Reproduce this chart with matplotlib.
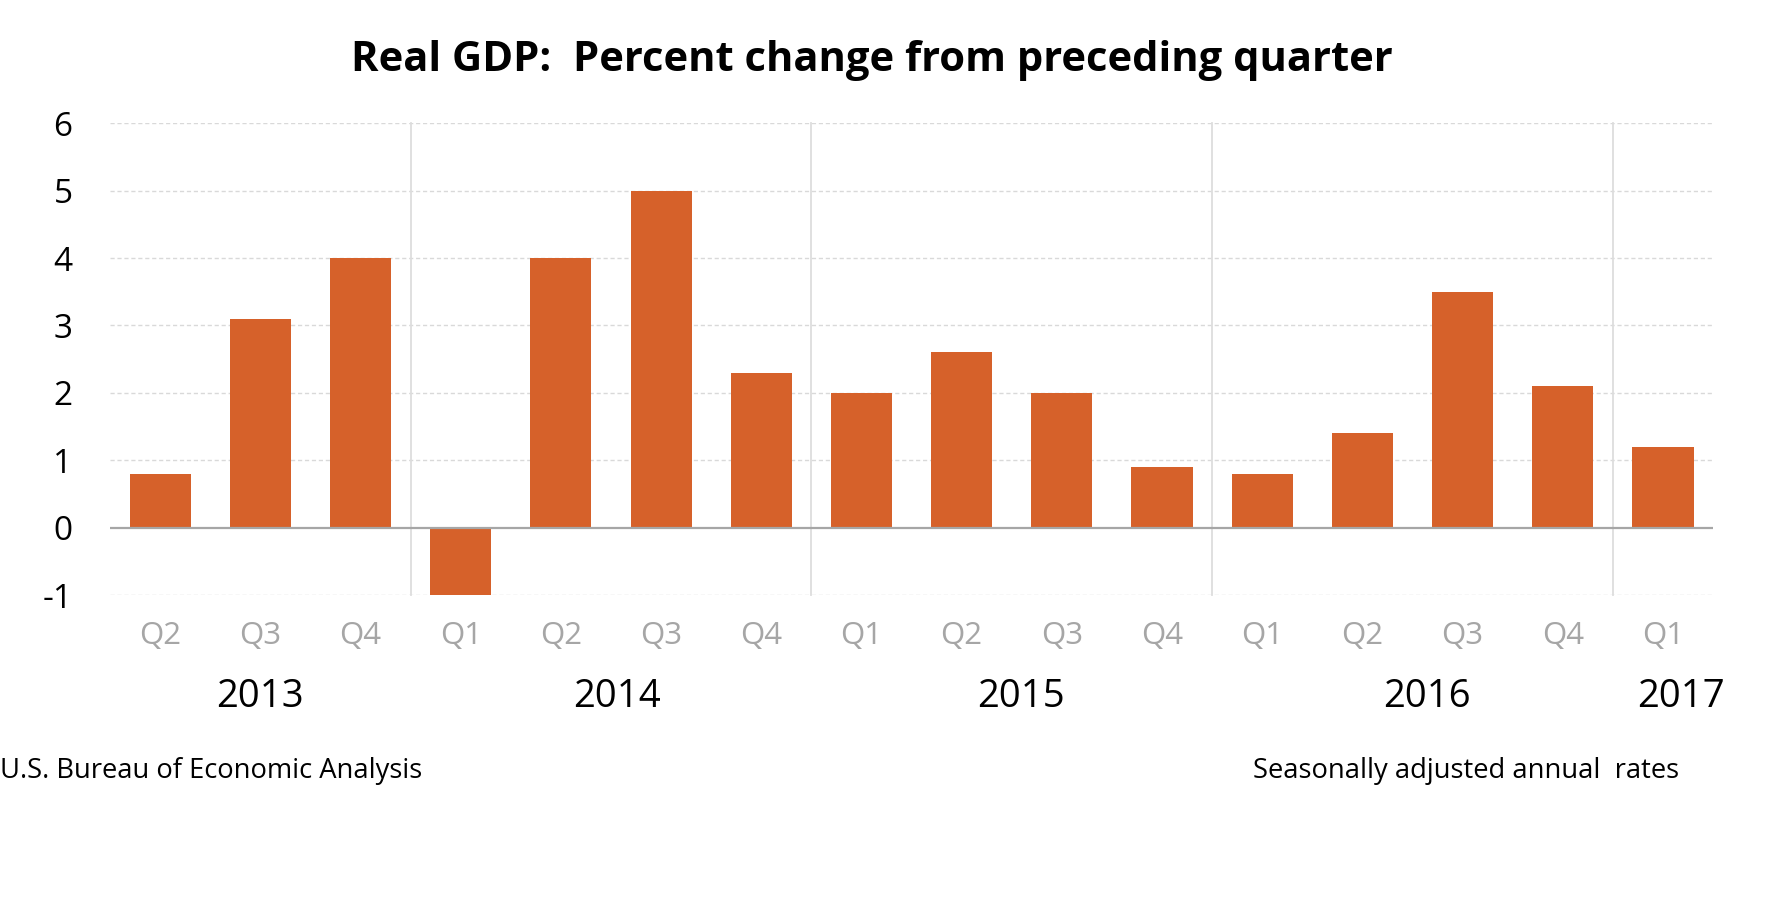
import matplotlib
matplotlib.use('Agg')
import matplotlib.pyplot as plt
import numpy as np

# data
years = ['2013', '2014', '2015', '2016', '2017']
quarters = ['Q2', 'Q3', 'Q4',
            'Q1', 'Q2', 'Q3', 'Q4',
            'Q1', 'Q2', 'Q3', 'Q4',
            'Q1', 'Q2', 'Q3', 'Q4',
            'Q1']
year_of_bar = ['2013', '2013', '2013',
               '2014', '2014', '2014', '2014',
               '2015', '2015', '2015', '2015',
               '2016', '2016', '2016', '2016',
               '2017']
gdp_change = [0.8, 3.1, 4.0,
              -1.0, 4.0, 5.0, 2.3,
              2.0, 2.6, 2.0, 0.9,
              0.8, 1.4, 3.5, 2.1,
              1.2]
y_ticks = [-1, 0, 1, 2, 3, 4, 5, 6]

plt.rcParams['font.family'] = ['Open Sans', 'DejaVu Sans']

fig = plt.figure(figsize=(17.78, 9.14), dpi=100)
ax = fig.add_axes([0.0619, 0.349, 0.9016, 0.5161])

x = np.arange(len(gdp_change))
ax.bar(x, gdp_change, 0.61, color='#D6612A', zorder=3)

ax.set_xlim(-0.5, len(gdp_change) - 0.5)
ax.set_ylim(min(y_ticks), max(y_ticks))
ax.set_yticks(y_ticks)
ax.set_yticklabels([str(t) for t in y_ticks], fontsize=24, color='black')
ax.tick_params(axis='y', length=0, pad=27)
ax.set_xticks(x)
ax.set_xticklabels(quarters, fontsize=22.5, color='#A6A6A6')
ax.tick_params(axis='x', length=0, pad=19)

for t in y_ticks:
    if t == 0:
        ax.axhline(0, color='#A6A6A6', lw=1.6, zorder=4)
    else:
        ax.axhline(t, color='#D9D9D9', lw=1.0, ls=(0, (3, 2)), zorder=1)

for s in ax.spines.values():
    s.set_visible(False)

# year separators and year labels (Excel puts them a bit right of centre)
nudge = [0.0, 0.06, 0.09, 0.14, 0.18]
for k, yr in enumerate(years):
    idx = [i for i, y in enumerate(year_of_bar) if y == yr]
    if k > 0:
        ax.plot([idx[0] - 0.5, idx[0] - 0.5], [min(y_ticks), max(y_ticks)],
                color='#DDDDDD', lw=1.3, zorder=2, clip_on=False)
    ax.text(np.mean(idx) + nudge[k], -0.217, yr,
            transform=ax.get_xaxis_transform(), fontsize=27.5,
            ha='center', va='center', color='black')

fig.text(0.4905, 0.934, 'Real GDP:  Percent change from preceding quarter',
         fontsize=30.1, fontweight='bold', ha='center', va='center')
fig.text(0.0, 0.157, 'U.S. Bureau of Economic Analysis',
         fontsize=19.7, ha='left', va='center')
fig.text(0.7047, 0.157, 'Seasonally adjusted annual  rates',
         fontsize=19.7, ha='left', va='center')

fig.savefig('out.png', dpi=100)
